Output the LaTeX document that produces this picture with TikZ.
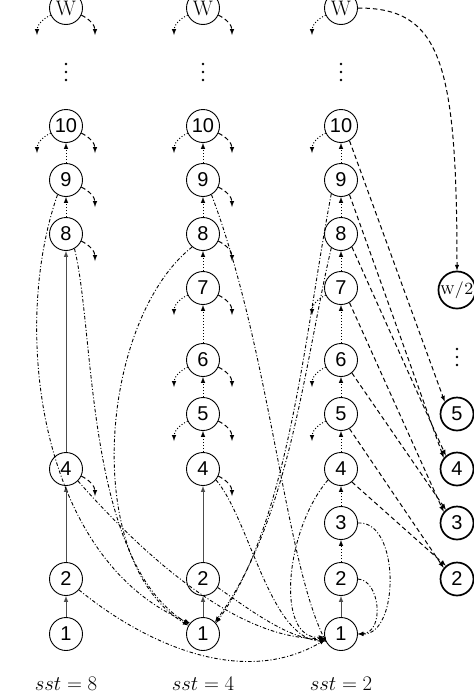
\documentclass[tikz,border=0pt]{standalone}
\usepackage{fontspec}
\newfontfamily\numfont{Liberation Sans}
\usetikzlibrary{positioning,arrows,calc}

\begin{document}
\begin{tikzpicture}[x=1pt,y=1pt,
    state/.style={circle, draw, line width=0.9pt, minimum size=33pt, inner sep=0pt, font=\numfont\fontsize{20}{24}\selectfont},
    wstate/.style={state, font=\fontsize{21}{24}\selectfont},
    halfstate/.style={state, line width=1.7pt},
    ack/.style={dotted, line width=1pt, -latex},
    slow/.style={black!70, line width=1pt, -latex},
    timeout/.style={dash pattern=on 3.5pt off 2pt on 1pt off 2pt, line width=0.9pt, -latex},
    fastre/.style={dash pattern=on 4.5pt off 3pt, line width=1pt, -latex},
    sstlabel/.style={anchor=base, font=\fontsize{20}{24}\selectfont}]
  \useasboundingbox (0,0) rectangle (474,-691);

  % columns sst=8, sst=4, sst=2 and the halved one
  \node[wstate] (c1-W) at (66,-8) {W};
  \node[wstate] (c2-W) at (203,-8) {W};
  \node[wstate] (c3-W) at (341,-8) {W};
  \foreach \x/\y in {66/72,203/72,341/72,457/357}
    \foreach \d in {-8,0,8}
      \fill (\x,-\y+\d) circle (1.3pt);
  \foreach \v/\y in {10/126,9/180,8/234,4/469,2/579,1/634}
    \node[state] (c1-\v) at (66,-\y) {\v};
  \foreach \v/\y in {10/126,9/180,8/234,7/288,6/360,5/414,4/469,2/579,1/634}
    \node[state] (c2-\v) at (203,-\y) {\v};
  \foreach \v/\y in {10/126,9/180,8/234,7/288,6/360,5/414,4/469,3/523,2/579,1/634}
    \node[state] (c3-\v) at (341,-\y) {\v};
  \node[halfstate, font=\fontsize{17}{18}\selectfont] (c4-w2) at (457,-290) {\textsc{w/2}};
  \foreach \v/\y in {5/414,4/469,3/523,2/579}
    \node[halfstate] (c4-\v) at (457,-\y) {\v};

  \node[sstlabel] at (66,-690) {$sst = 8$};
  \node[sstlabel] at (203,-690) {$sst = 4$};
  \node[sstlabel] at (341,-690) {$sst = 2$};

  % growth along each column
  \foreach \a/\b in {1/2,2/4,4/8}
    \draw[slow] (c1-\a) -- (c1-\b);
  \foreach \a/\b in {1/2,2/4}
    \draw[slow] (c2-\a) -- (c2-\b);
  \draw[slow] (c3-1) -- (c3-2);
  \foreach \a/\b in {8/9,9/10}
    \draw[ack] (c1-\a) -- (c1-\b);
  \foreach \a/\b in {4/5,5/6,6/7,7/8,8/9,9/10}
    \draw[ack] (c2-\a) -- (c2-\b);
  \foreach \a/\b in {2/3,3/4,4/5,5/6,6/7,7/8,8/9,9/10}
    \draw[ack] (c3-\a) -- (c3-\b);

  % edges leaving the picture
  \foreach \n in {c1-W,c1-10,c2-W,c2-10,c2-7,c2-6,c2-5,c3-W,c3-10,c3-7,c3-6,c3-5} {
    \coordinate (\n-out) at ($(\n)+(-29,-27)$);
    \draw[ack] (\n.205) to[out=205,in=90] (\n-out);
  }
  \foreach \n in {c1-W,c1-10,c1-9,c1-8,c1-4,c2-W,c2-10,c2-9,c2-8,c2-7,c2-6,c2-5,c2-4} {
    \coordinate (\n-fr) at ($(\n)+(29,-27)$);
    \draw[fastre] (\n.335) to[out=-25,in=90] (\n-fr);
  }

  % timeouts
  \draw[timeout] (c1-9.240) .. controls (10,-330) and (40,-560) .. (c2-1.140);
  \draw[timeout] (c1-8.300) .. controls (95,-330) and (85,-560) .. (c2-1.145);
  \draw[timeout] (c2-8.230) .. controls (100,-320) and (80,-560) .. (c2-1.150);
  \draw[timeout] (c1-4.315) .. controls (130,-540) and (230,-640) .. (c3-1.195);
  \draw[timeout] (c1-2.320) .. controls (140,-640) and (240,-690) .. (c3-1.200);
  \draw[timeout] (c2-4.320) .. controls (250,-520) and (270,-640) .. (c3-1.205);
  \draw[timeout] (c2-2.330) .. controls (250,-610) and (290,-640) .. (c3-1.200);
  \draw[timeout] (c2-9.300) .. controls (270,-350) and (285,-560) .. (c3-1.210);
  \draw[timeout] (c3-9.235) .. controls (305,-330) and (290,-520) .. (c2-1.40);
  \draw[timeout] (c3-8.235) .. controls (305,-360) and (290,-520) .. (c2-1.45);
  \draw[timeout] (c3-4.220) .. controls (285,-530) and (275,-640) .. (c3-1.190);
  \draw[timeout] (c3-3.east) .. controls (400,-520) and (400,-635) .. (c3-1.east);
  \draw[timeout] (c3-2.east) .. controls (380,-580) and (385,-632) .. (c3-1.east);

  % fast retransmit to W/2
  \draw[fastre] (c3-W.east) .. controls (440,-8) and (457,-60) .. (c4-w2.north);
  \draw[fastre] (c3-10.300) -- (c4-5.135);
  \draw[fastre] (c3-9.300) -- (c4-4.140);
  \draw[fastre] (c3-8.310) -- (c4-4.130);
  \draw[fastre] (c3-7.300) -- (c4-3.140);
  \draw[fastre] (c3-6.310) -- (c4-3.130);
  \draw[fastre] (c3-5.300) -- (c4-2.140);
  \draw[fastre] (c3-4.310) -- (c4-2.130);
\end{tikzpicture}
\end{document}
